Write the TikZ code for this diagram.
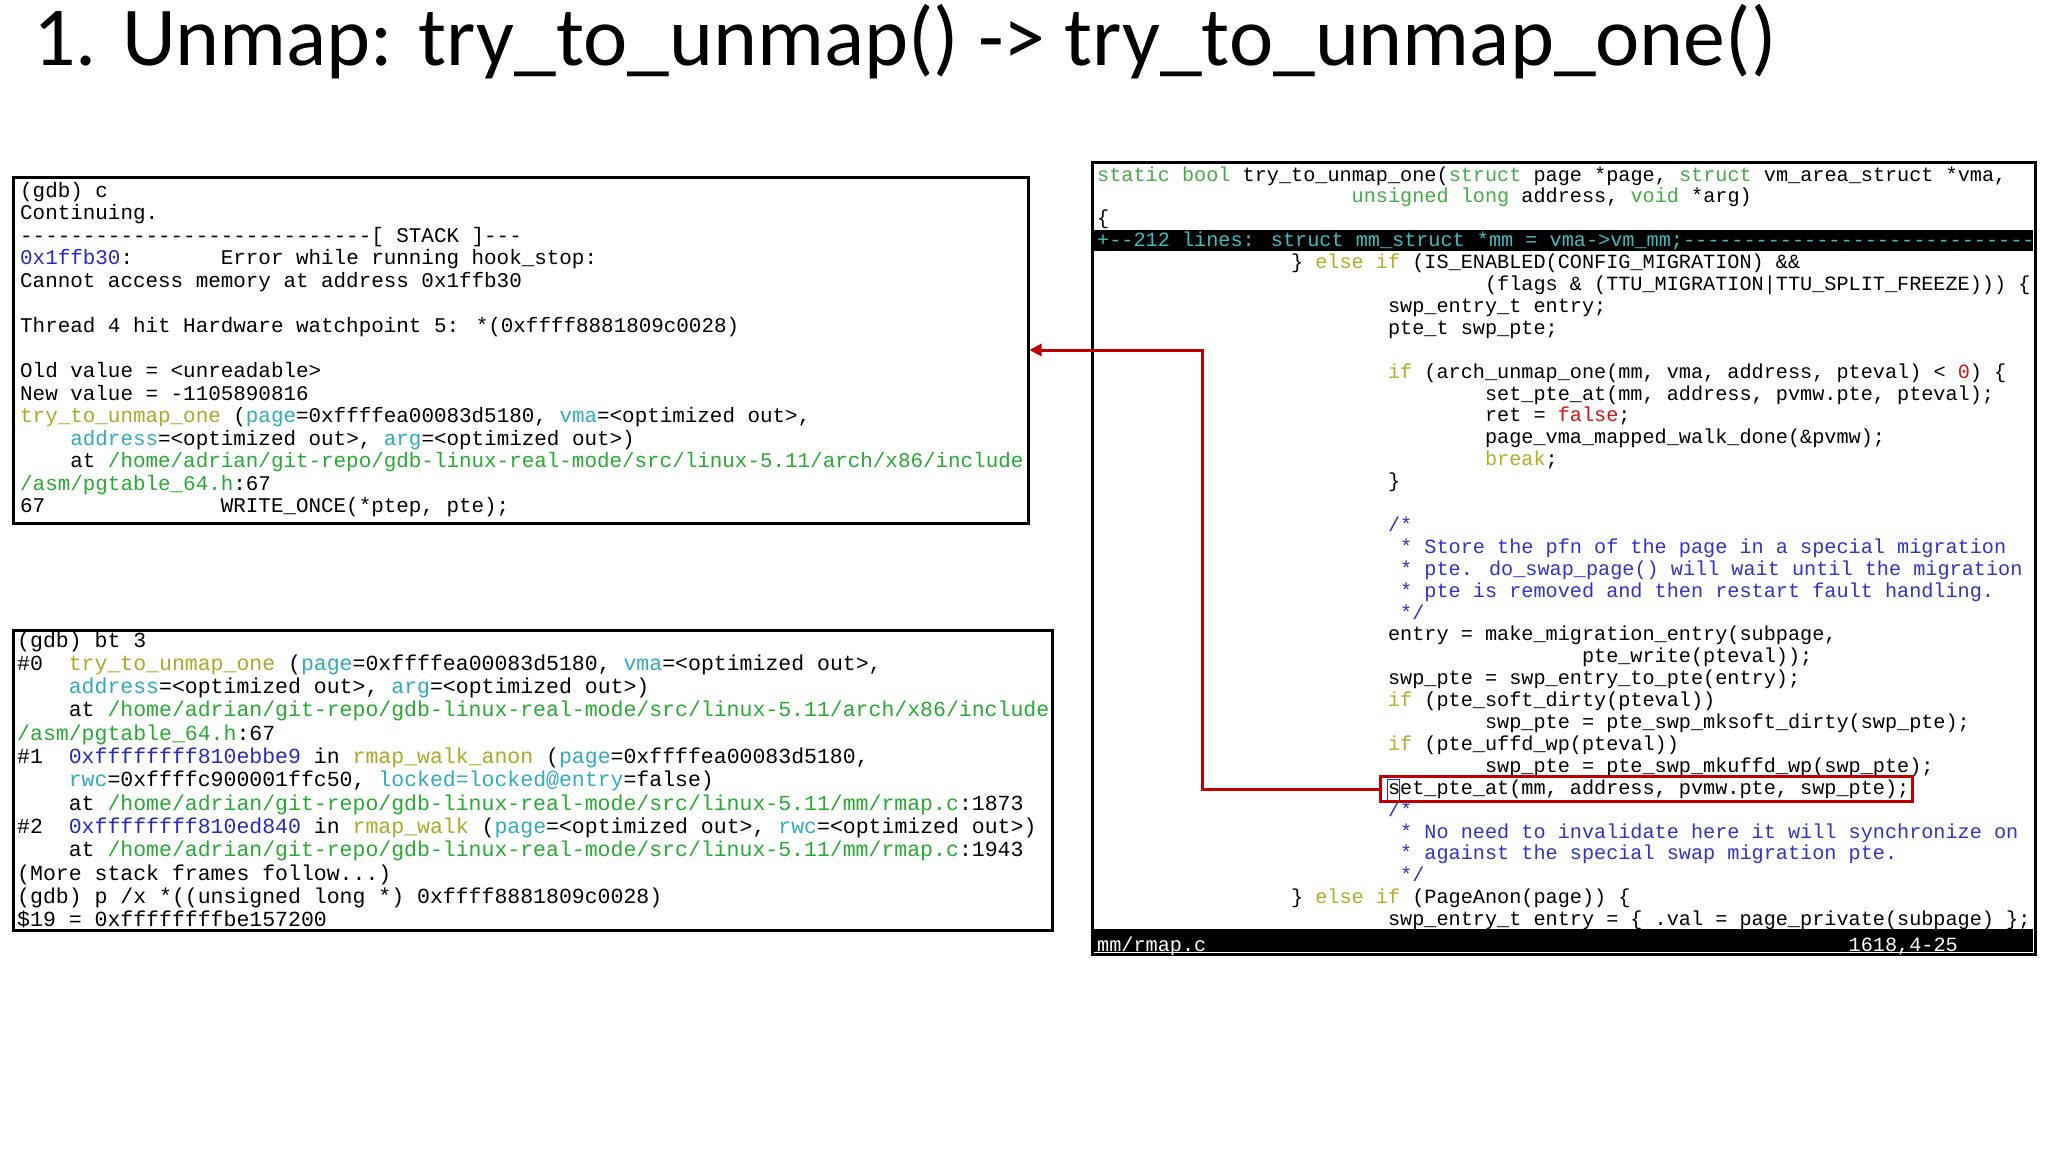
\documentclass[tikz,border=0pt]{standalone}
\usepackage{fontspec}
\usetikzlibrary{arrows.meta}
\newfontfamily\cf{Liberation Mono}
\newfontfamily\tf{Carlito}
\definecolor{cfn}{RGB}{170,170,40}
\definecolor{cpar}{RGB}{50,170,190}
\definecolor{cpath}{RGB}{40,170,50}
\definecolor{caddr}{RGB}{40,40,190}
\definecolor{ckw}{RGB}{70,170,70}
\definecolor{cctl}{RGB}{175,175,40}
\definecolor{cred}{RGB}{210,20,20}
\definecolor{ccmt}{RGB}{50,50,200}
\definecolor{cbar}{RGB}{60,190,190}
\definecolor{hlred}{RGB}{192,0,0}
\newcommand\fn[1]{\textcolor{cfn}{#1}}
\newcommand\pa[1]{\textcolor{cpar}{#1}}
\newcommand\pt[1]{\textcolor{cpath}{#1}}
\newcommand\ad[1]{\textcolor{caddr}{#1}}
\newcommand\kw[1]{\textcolor{ckw}{#1}}
\newcommand\ct[1]{\textcolor{cctl}{#1}}
\newcommand\rd[1]{\textcolor{cred}{#1}}
\newcommand\cm[1]{\textcolor{ccmt}{#1}}
\newcommand\spc[1]{\hspace*{#1\dimexpr0.6em\relax}}
\newcounter{lnc}
\tikzset{
  codeA/.style={anchor=base west,inner sep=0pt,font=\cf\fontsize{20.9}{22}\selectfont},
  codeAB/.style={anchor=base west,inner sep=0pt,font=\cf\fontsize{21.5}{22}\selectfont},
  codeB/.style={anchor=base west,inner sep=0pt,font=\cf\fontsize{20.2}{22}\selectfont},
  box/.style={draw=black,line width=3pt,fill=white,inner sep=0pt},
  hlbox/.style={draw=hlred,line width=3pt,inner sep=0pt},
  conn/.style={draw=hlred,line width=3pt,-{Triangle[length=12pt,width=12pt]}},
}
\newcommand\bA[3]{\stepcounter{lnc}\node[codeA] (a\thelnc) at ({20+#2*12.54},{197+#1*22.57}) {#3};}
\newcommand\bB[3]{\stepcounter{lnc}\node[codeAB] (b\thelnc) at ({17+#2*12.9},{647+#1*23.3}) {#3};}
\newcommand\bC[3]{\stepcounter{lnc}\node[codeB] (c\thelnc) at ({1097+#2*12.12},{181+#1*21.9}) {#3};}
\begin{document}
\begin{tikzpicture}[x=1pt,y=-1pt]
\fill[white] (0,0) rectangle (2048,1152);
\useasboundingbox (0,0) rectangle (2048,1152);
\node[anchor=base west,inner sep=0pt,font=\tf\fontsize{83.8}{90}\selectfont] (title) at (33,65) {1. Unmap: try\_to\_unmap() -> try\_to\_unmap\_one()};
% boxes
\node[box,minimum width=1015pt,minimum height=346pt] (b1) at (520.5,350) {};
\node[box,minimum width=1039pt,minimum height=300pt] (b2) at (532.5,780) {};
\node[box,minimum width=943pt,minimum height=792pt] (b3) at (1563.5,558) {};
% box 1
\bA{0}{0}{(gdb) c}
\bA{1}{0}{Continuing.}
\bA{2}{0}{----------------------------[ STACK ]---}
\bA{3}{0}{\ad{0x1ffb30}:\spc{7}Error while running hook\_stop:}
\bA{4}{0}{Cannot access memory at address 0x1ffb30}
\bA{6}{0}{Thread 4 hit Hardware watchpoint 5: *(0xffff8881809c0028)}
\bA{8}{0}{Old value = <unreadable>}
\bA{9}{0}{New value = -1105890816}
\bA{10}{0}{\fn{try\_to\_unmap\_one} (\pa{page}=0xffffea00083d5180, \pa{vma}=<optimized out>,}
\bA{11}{4}{\pa{address}=<optimized out>, \pa{arg}=<optimized out>)}
\bA{12}{4}{at \pt{/home/adrian/git-repo/gdb-linux-real-mode/src/linux-5.11/arch/x86/include}}
\bA{13}{0}{\pt{/asm/pgtable\_64.h}:67}
\bA{14}{0}{67\spc{14}WRITE\_ONCE(*ptep, pte);}
% box 2
\bB{0}{0}{(gdb) bt 3}
\bB{1}{0}{\#0\spc{2}\fn{try\_to\_unmap\_one} (\pa{page}=0xffffea00083d5180, \pa{vma}=<optimized out>,}
\bB{2}{4}{\pa{address}=<optimized out>, \pa{arg}=<optimized out>)}
\bB{3}{4}{at \pt{/home/adrian/git-repo/gdb-linux-real-mode/src/linux-5.11/arch/x86/include}}
\bB{4}{0}{\pt{/asm/pgtable\_64.h}:67}
\bB{5}{0}{\#1\spc{2}\ad{0xffffffff810ebbe9} in \fn{rmap\_walk\_anon} (\pa{page}=0xffffea00083d5180,}
\bB{6}{4}{\pa{rwc}=0xffffc900001ffc50, \pa{locked=locked@entry}=false)}
\bB{7}{4}{at \pt{/home/adrian/git-repo/gdb-linux-real-mode/src/linux-5.11/mm/rmap.c}:1873}
\bB{8}{0}{\#2\spc{2}\ad{0xffffffff810ed840} in \fn{rmap\_walk} (\pa{page}=<optimized out>, \pa{rwc}=<optimized out>)}
\bB{9}{4}{at \pt{/home/adrian/git-repo/gdb-linux-real-mode/src/linux-5.11/mm/rmap.c}:1943}
\bB{10}{0}{(More stack frames follow...)}
\bB{11}{0}{(gdb) p /x *((unsigned long *) 0xffff8881809c0028)}
\bB{12}{0}{\$19 = 0xffffffffbe157200}
% box 3 bars
\fill[black] (1094,230) rectangle (2033,251);
\fill[black] (1094,929) rectangle (2033,952);
\bC{0}{0}{\kw{static} \kw{bool} try\_to\_unmap\_one(\kw{struct} page *page, \kw{struct} vm\_area\_struct *vma,}
\bC{1}{21}{\kw{unsigned} \kw{long} address, \kw{void} *arg)}
\bC{2}{0}{\{}
\bC{3}{0}{\textcolor{cbar}{+--212 lines: struct mm\_struct *mm = vma->vm\_mm;-----------------------------}}
\bC{4}{16}{\} \ct{else} \ct{if} (IS\_ENABLED(CONFIG\_MIGRATION) \&\&}
\bC{5}{32}{(flags \& (TTU\_MIGRATION|TTU\_SPLIT\_FREEZE))) \{}
\bC{6}{24}{swp\_entry\_t entry;}
\bC{7}{24}{pte\_t swp\_pte;}
\bC{9}{24}{\ct{if} (arch\_unmap\_one(mm, vma, address, pteval) < \rd{0}) \{}
\bC{10}{32}{set\_pte\_at(mm, address, pvmw.pte, pteval);}
\bC{11}{32}{ret = \rd{false};}
\bC{12}{32}{page\_vma\_mapped\_walk\_done(\&pvmw);}
\bC{13}{32}{\ct{break};}
\bC{14}{24}{\}}
\bC{16}{24}{\cm{/*}}
\bC{17}{25}{\cm{* Store the pfn of the page in a special migration}}
\bC{18}{25}{\cm{* pte. do\_swap\_page() will wait until the migration}}
\bC{19}{25}{\cm{* pte is removed and then restart fault handling.}}
\bC{20}{25}{\cm{*/}}
\bC{21}{24}{entry = make\_migration\_entry(subpage,}
\bC{22}{40}{pte\_write(pteval));}
\bC{23}{24}{swp\_pte = swp\_entry\_to\_pte(entry);}
\bC{24}{24}{\ct{if} (pte\_soft\_dirty(pteval))}
\bC{25}{32}{swp\_pte = pte\_swp\_mksoft\_dirty(swp\_pte);}
\bC{26}{24}{\ct{if} (pte\_uffd\_wp(pteval))}
\bC{27}{32}{swp\_pte = pte\_swp\_mkuffd\_wp(swp\_pte);}
\bC{28}{24}{set\_pte\_at(mm, address, pvmw.pte, swp\_pte);}
\bC{29}{24}{\cm{/*}}
\bC{30}{25}{\cm{* No need to invalidate here it will synchronize on}}
\bC{31}{25}{\cm{* against the special swap migration pte.}}
\bC{32}{25}{\cm{*/}}
\bC{33}{16}{\} \ct{else} \ct{if} (PageAnon(page)) \{}
\bC{34}{24}{swp\_entry\_t entry = \{ .val = page\_private(subpage) \};}
\bC{35.2}{0}{\textcolor{white}{mm/rmap.c}}
\bC{35.2}{62}{\textcolor{white}{1618,4-25}}
% cursor and highlight
\draw[caddr,line width=1pt] (1387,779) rectangle (1399,800);
\node[hlbox,minimum width=532pt,minimum height=25pt] (hl) at (1646,789) {};
\coordinate (c1) at (1202,789);
\coordinate (c2) at (1202,350);
\draw[conn] (hl.west) -- (c1) -- (c2) -- (c2 -| b1.east);
\end{tikzpicture}
\end{document}
